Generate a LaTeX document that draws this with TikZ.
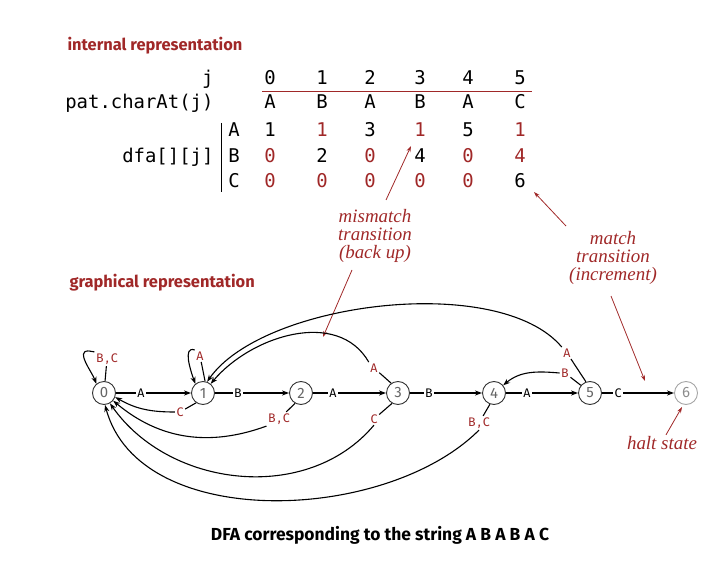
\documentclass[tikz,border=0pt]{standalone}
\usepackage{fontspec}
\setmainfont{Liberation Serif}
\newfontfamily\sff{Fira Sans}
\newfontfamily\ttf{DejaVu Sans Mono}
\usetikzlibrary{arrows.meta}
\definecolor{dkred}{RGB}{160,40,40}
\def\tb{\fontsize{19}{22}\ttf}
\def\R#1{\textcolor{dkred}{#1}}

\begin{document}
\begin{tikzpicture}[x=1bp,y=-1bp,
			state/.style={circle,draw=black!80,line width=0.9bp,minimum size=23bp,inner sep=0pt,font=\fontsize{15}{15}\sff,text=black!60},
			halt/.style={state,draw=black!35,text=black!45},
			lab/.style={font=\fontsize{12.5}{12.5}\sff,inner sep=1.5bp},
			blab/.style={lab,text=dkred},
			cell/.style={font=\tb,anchor=base},
			rowlab/.style={font=\tb,anchor=base east},
			head/.style={font=\fontsize{16.5}{19}\sff\bfseries,text=dkred,anchor=base west},
			note/.style={font=\fontsize{19}{22}\itshape,text=dkred,align=center},
			tr/.style={line width=1.1bp},
			arr/.style={tr,-{Stealth[length=7bp,width=5bp]}},
			narr/.style={draw=dkred,line width=0.8bp,-{Stealth[length=6bp,width=4bp]}}]
\useasboundingbox (0,0) rectangle (720,575);
% headings
\node [head] (h1) at (64,51) {internal representation};
\node [head] (h2) at (66,287) {graphical representation};
\node [font=\fontsize{17.5}{20}\sff\bfseries] (cap) at (380,535) {DFA corresponding to the string A B A B A C};
% table
\node [rowlab] (rj) at (217,85) {j};
\node [rowlab] (rp) at (217,109) {pat.charAt(j)};
\node [rowlab] (rd) at (217,163) {dfa[][j]};
\node [cell] (ra) at (234,137) {A};
\node [cell] (rb) at (234,163) {B};
\node [cell] (rc) at (234,188) {C};
\draw [line width=0.8bp] (221,123) -- (221,192);
\draw [dkred,line width=0.9bp] (262,91) -- (532,91);
\foreach \x/\j/\p/\a/\b/\c in {270/0/A/1/\R0/\R0, 322/1/B/\R1/2/\R0, 370/2/A/3/\R0/\R0,
		420/3/B/\R1/4/\R0, 468/4/A/5/\R0/\R0, 520/5/C/\R1/\R4/6}{
	\node [cell] (j\j) at (\x,85) {\j};
	\node [cell] (p\j) at (\x,109) {\p};
	\node [cell] (a\j) at (\x,137) {\a};
	\node [cell] (b\j) at (\x,163) {\b};
	\node [cell] (c\j) at (\x,188) {\c};
}
% notes
\node [note] (mis) at (375,236) {mismatch\\[-4bp]transition\\[-4bp](back up)};
\node [note] (mat) at (613,258) {match\\[-4bp]transition\\[-4bp](increment)};
\node [note] (hs) at (662,443) {halt state};
\coordinate (m1) at (386,200); \coordinate (m1e) at (411,146);
\coordinate (m2) at (352,270); \coordinate (m2e) at (323,337);
\coordinate (t1) at (566,226); \coordinate (t1e) at (534,192);
\coordinate (t2) at (611,296); \coordinate (t2e) at (645,381);
\draw [narr] (m1) -- (m1e);
\draw [narr] (m2) -- (m2e);
\draw [narr] (t1) -- (t1e);
\draw [narr] (t2) -- (t2e);
\draw [narr] (hs.north) ++(4,2) -- (682,407);
% states
\node [state] (s0) at (104,393) {0};
\node [state] (s1) at (203,393) {1};
\node [state] (s2) at (301,393) {2};
\node [state] (s3) at (398,393) {3};
\node [state] (s4) at (494,393) {4};
\node [state] (s5) at (590,393) {5};
\node [halt] (s6) at (686,393) {6};
% forward transitions
\foreach \i/\j/\x/\c in {0/1/141/A, 1/2/238/B, 2/3/333/A, 3/4/429/B, 4/5/527/A, 5/6/618/C}{
	\node [lab] (f\i) at (\x,393) {\c};
	\draw [tr] (s\i) -- (f\i);
	\draw [arr] (f\i) -- (s\j);
}
% back transitions
\node [blab] (l00) at (107,359) {B\,,\,C};
\draw [tr] (s0) -- (l00);
\draw [arr] (l00.north west) ++(-6,-1) to[out=180,in=110] (s0.130);
\draw [tr] (l00.north west) ++(-6,-1) -- (l00.north west);
\node [blab] (l11) at (200,356) {A};
\draw [tr] (s1.80) -- (l11);
\draw [arr] (l11.north west) to[out=160,in=110] (s1.130);
\node [blab] (l10) at (180,412) {C};
\draw [tr] (s1.235) -- (l10);
\draw [arr] (l10.west) to[out=180,in=-30] (s0.-20);
\node [blab] (l20) at (279,419) {B\,,\,C};
\draw [tr] (s2.240) -- (l20);
\draw [arr] (l20.south west) to[out=200,in=-40] (s0.-40);
\node [blab] (l30) at (374,419) {C};
\draw [tr] (s3.240) -- (l30);
\draw [arr] (l30.south) to[out=230,in=-55] (s0.-60);
\node [blab] (l40) at (479,423) {B\,,\,C};
\draw [tr] (s4.250) -- (l40);
\draw [arr] (l40.south) to[out=225,in=-75,looseness=0.9] (s0.-85);
\node [blab] (l31) at (374,368) {A};
\draw [tr] (s3.125) -- (l31);
\draw [arr] (l31.north west) to[out=120,in=50] (s1.50);
\node [blab] (l51) at (567,353) {A};
\draw [tr] (s5.110) -- (l51);
\draw [arr] (l51.north west) to[out=130,in=55,looseness=0.7] (s1.70);
\node [blab] (l54) at (565,373) {B};
\draw [tr] (s5.140) -- (l54);
\draw [arr] (l54.west) to[out=175,in=40] (s4.40);
\end{tikzpicture}
\end{document}
